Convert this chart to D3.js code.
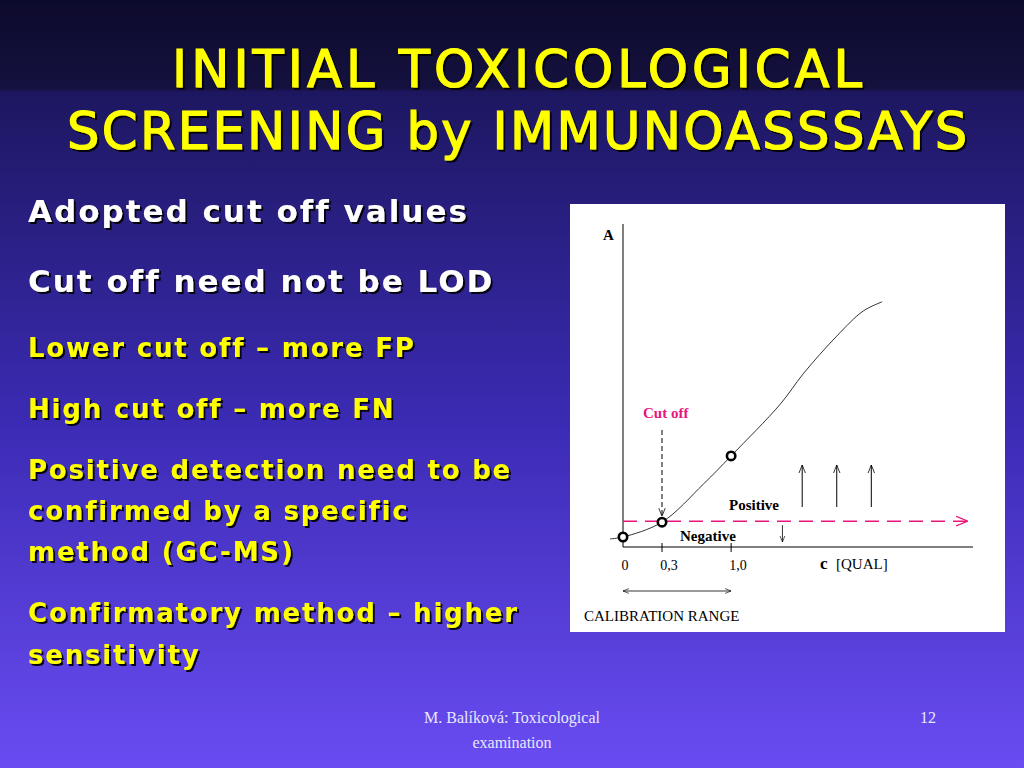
<!DOCTYPE html><html><head><meta charset="utf-8">
<script src="https://cdn.jsdelivr.net/npm/d3@7"></script>
<style>body{margin:0;overflow:hidden}</style></head><body><svg id="s" width="1024" height="768"></svg>
<script>
const curveC = [-0.1,0,0.3,0.72,1.0,1.5,1.73,2.07,2.34,2.53];
const curveA = [0.25,0.31,0.77,1.95,2.82,4.43,5.36,6.53,7.31,7.59];
const pointC = [0,0.3,1.0];
const pointA = [0.31,0.77,2.82];
const cutOff = 0.8;
const tickValues = [0,0.3,1.0];
const tickLabels = ["0","0,3","1,0"];
const arrowC = [1.72,2.07,2.42];
const titleLines = ["INITIAL TOXICOLOGICAL","SCREENING by IMMUNOASSSAYS"];
const bullets = [
 {t:["Adopted cut off values"],c:"#fff",s:31},
 {t:["Cut off need not be LOD"],c:"#fff",s:31},
 {t:["Lower cut off – more FP"],c:"#ffff00",s:26},
 {t:["High cut off – more FN"],c:"#ffff00",s:26},
 {t:["Positive detection need to be","confirmed by a specific","method  (GC-MS)"],c:"#ffff00",s:26},
 {t:["Confirmatory method – higher","sensitivity"],c:"#ffff00",s:26}];
const bulletY=[[222],[292],[357],[418],[479,520,561],[622,664]];

const svg=d3.select("#s");
const defs=svg.append("defs");
const g=defs.append("linearGradient").attr("id","bg").attr("x1",0).attr("y1",0).attr("x2",0).attr("y2",1);
g.append("stop").attr("offset",0).attr("stop-color","#0c0a2c");
g.append("stop").attr("offset",0.115).attr("stop-color","#15113f");
g.append("stop").attr("offset",0.12).attr("stop-color","#1d1760");
g.append("stop").attr("offset",0.55).attr("stop-color","#3b2bb4");
g.append("stop").attr("offset",1).attr("stop-color","#6a4cf2");
const f=defs.append("filter").attr("id","sh");
f.append("feDropShadow").attr("dx",2).attr("dy",2).attr("stdDeviation",0.6).attr("flood-color","#000").attr("flood-opacity",0.9);
const mk=defs.append("marker").attr("id","ar").attr("viewBox","0 0 10 10").attr("refX",10).attr("refY",5).attr("markerWidth",8).attr("markerHeight",8).attr("orient","auto-start-reverse");
mk.append("path").attr("d","M0,1 L10,5 L0,9").attr("fill","none").attr("stroke","#000").attr("stroke-width",1);
const mkp=defs.append("marker").attr("id","arp").attr("viewBox","0 0 10 10").attr("refX",10).attr("refY",5).attr("markerWidth",8).attr("markerHeight",8).attr("orient","auto");
mkp.append("path").attr("d","M0,1 L10,5 L0,9").attr("fill","none").attr("stroke","#e8157a").attr("stroke-width",1);

svg.append("rect").attr("width",1024).attr("height",768).attr("fill","url(#bg)");
svg.selectAll("text.title").data(titleLines).join("text").attr("x",517).attr("y",(d,i)=>87+i*62)
 .attr("text-anchor","middle").attr("fill","#ffff00").attr("stroke","#ffff00").attr("stroke-width",1.2)
 .attr("font-family","DejaVu Sans").attr("font-size",51).attr("textLength",(d,i)=>i?900:690)
 .attr("filter","url(#sh)").text(d=>d);
bullets.forEach((b,i)=>b.t.forEach((t,j)=>svg.append("text").attr("x",28).attr("y",bulletY[i][j])
 .attr("fill",b.c).attr("font-family","DejaVu Sans").attr("font-weight","bold").attr("font-size",b.s)
 .attr("letter-spacing",b.s>30?2:1.8)
 .attr("filter","url(#sh)").text(t)));
svg.append("text").attr("x",512).attr("y",723).attr("text-anchor","middle").attr("fill","#e8e8ff").attr("font-family","Liberation Serif").attr("font-size",16).text("M. Balíková: Toxicological");
svg.append("text").attr("x",512).attr("y",748).attr("text-anchor","middle").attr("fill","#e8e8ff").attr("font-family","Liberation Serif").attr("font-size",16).text("examination");
svg.append("text").attr("x",928).attr("y",723).attr("text-anchor","middle").attr("fill","#e8e8ff").attr("font-family","Liberation Serif").attr("font-size",16).text("12");

svg.append("rect").attr("x",570).attr("y",204).attr("width",435).attr("height",428).attr("fill","#fff");
const x=d3.scaleLinear().domain([0,0.3,3.45]).range([623,662,973]);
const y=d3.scaleLinear().domain([0,10]).range([547,224]);
const c=svg.append("g").attr("font-family","Liberation Serif");
c.append("line").attr("x1",x(0)).attr("x2",x(0)).attr("y1",y(0)).attr("y2",y(10)).attr("stroke","#000");
c.append("line").attr("x1",x(0)).attr("x2",x(3.45)).attr("y1",y(0)).attr("y2",y(0)).attr("stroke","#000");
c.selectAll("line.tk").data(tickValues.slice(1)).join("line").attr("x1",d=>x(d)).attr("x2",d=>x(d)).attr("y1",y(0)-4).attr("y2",y(0)+5).attr("stroke","#000");
c.selectAll("text.tl").data(tickValues).join("text").attr("x",d=>x(d)+(d===0?2:7)).attr("y",570).attr("text-anchor","middle").attr("font-size",14).text((d,i)=>tickLabels[i]);
c.append("text").attr("x",603).attr("y",240).attr("font-size",15).attr("font-weight","bold").text("A");
c.append("text").attr("x",820).attr("y",569).attr("font-size",17).attr("font-weight","bold").text("c");
c.append("text").attr("x",836).attr("y",569).attr("font-size",15).text("[QUAL]");
c.append("path").datum(curveC.map((d,i)=>[d,curveA[i]])).attr("d",d3.line().x(d=>x(d[0])).y(d=>y(d[1])).curve(d3.curveCatmullRom)).attr("fill","none").attr("stroke","#000").attr("stroke-width",0.8);
c.append("line").attr("x1",x(0)).attr("x2",x(3.4)).attr("y1",y(cutOff)).attr("y2",y(cutOff)).attr("stroke","#e8157a").attr("stroke-width",1.5).attr("stroke-dasharray","14,8").attr("marker-end","url(#arp)");
c.selectAll("circle").data(pointC).join("circle").attr("cx",d=>x(d)).attr("cy",(d,i)=>y(pointA[i])).attr("r",4.2).attr("fill","#fff").attr("stroke","#000").attr("stroke-width",2.6);
c.append("text").attr("x",643).attr("y",418).attr("fill","#e8157a").attr("font-size",15).attr("font-weight","bold").text("Cut off");
c.append("line").attr("x1",x(0.3)).attr("x2",x(0.3)).attr("y1",430).attr("y2",y(cutOff)-5).attr("stroke","#000").attr("stroke-dasharray","5,3").attr("marker-end","url(#ar)");
c.append("text").attr("x",729).attr("y",510).attr("font-size",15).attr("font-weight","bold").text("Positive");
c.append("text").attr("x",680).attr("y",541).attr("font-size",15).attr("font-weight","bold").text("Negative");
c.append("line").attr("x1",x(1.52)).attr("x2",x(1.52)).attr("y1",y(cutOff)+4).attr("y2",y(0)-5).attr("stroke","#000").attr("stroke-width",0.8).attr("marker-end","url(#ar)");
c.selectAll("line.up").data(arrowC).join("line").attr("x1",d=>x(d)).attr("x2",d=>x(d)).attr("y1",507).attr("y2",465).attr("stroke","#000").attr("marker-end","url(#ar)");
c.append("line").attr("x1",x(0)).attr("x2",x(1.0)).attr("y1",591).attr("y2",591).attr("stroke","#000").attr("stroke-width",0.8).attr("marker-start","url(#ar)").attr("marker-end","url(#ar)");
c.append("text").attr("x",584).attr("y",621).attr("font-size",15).text("CALIBRATION RANGE");
</script></body></html>
